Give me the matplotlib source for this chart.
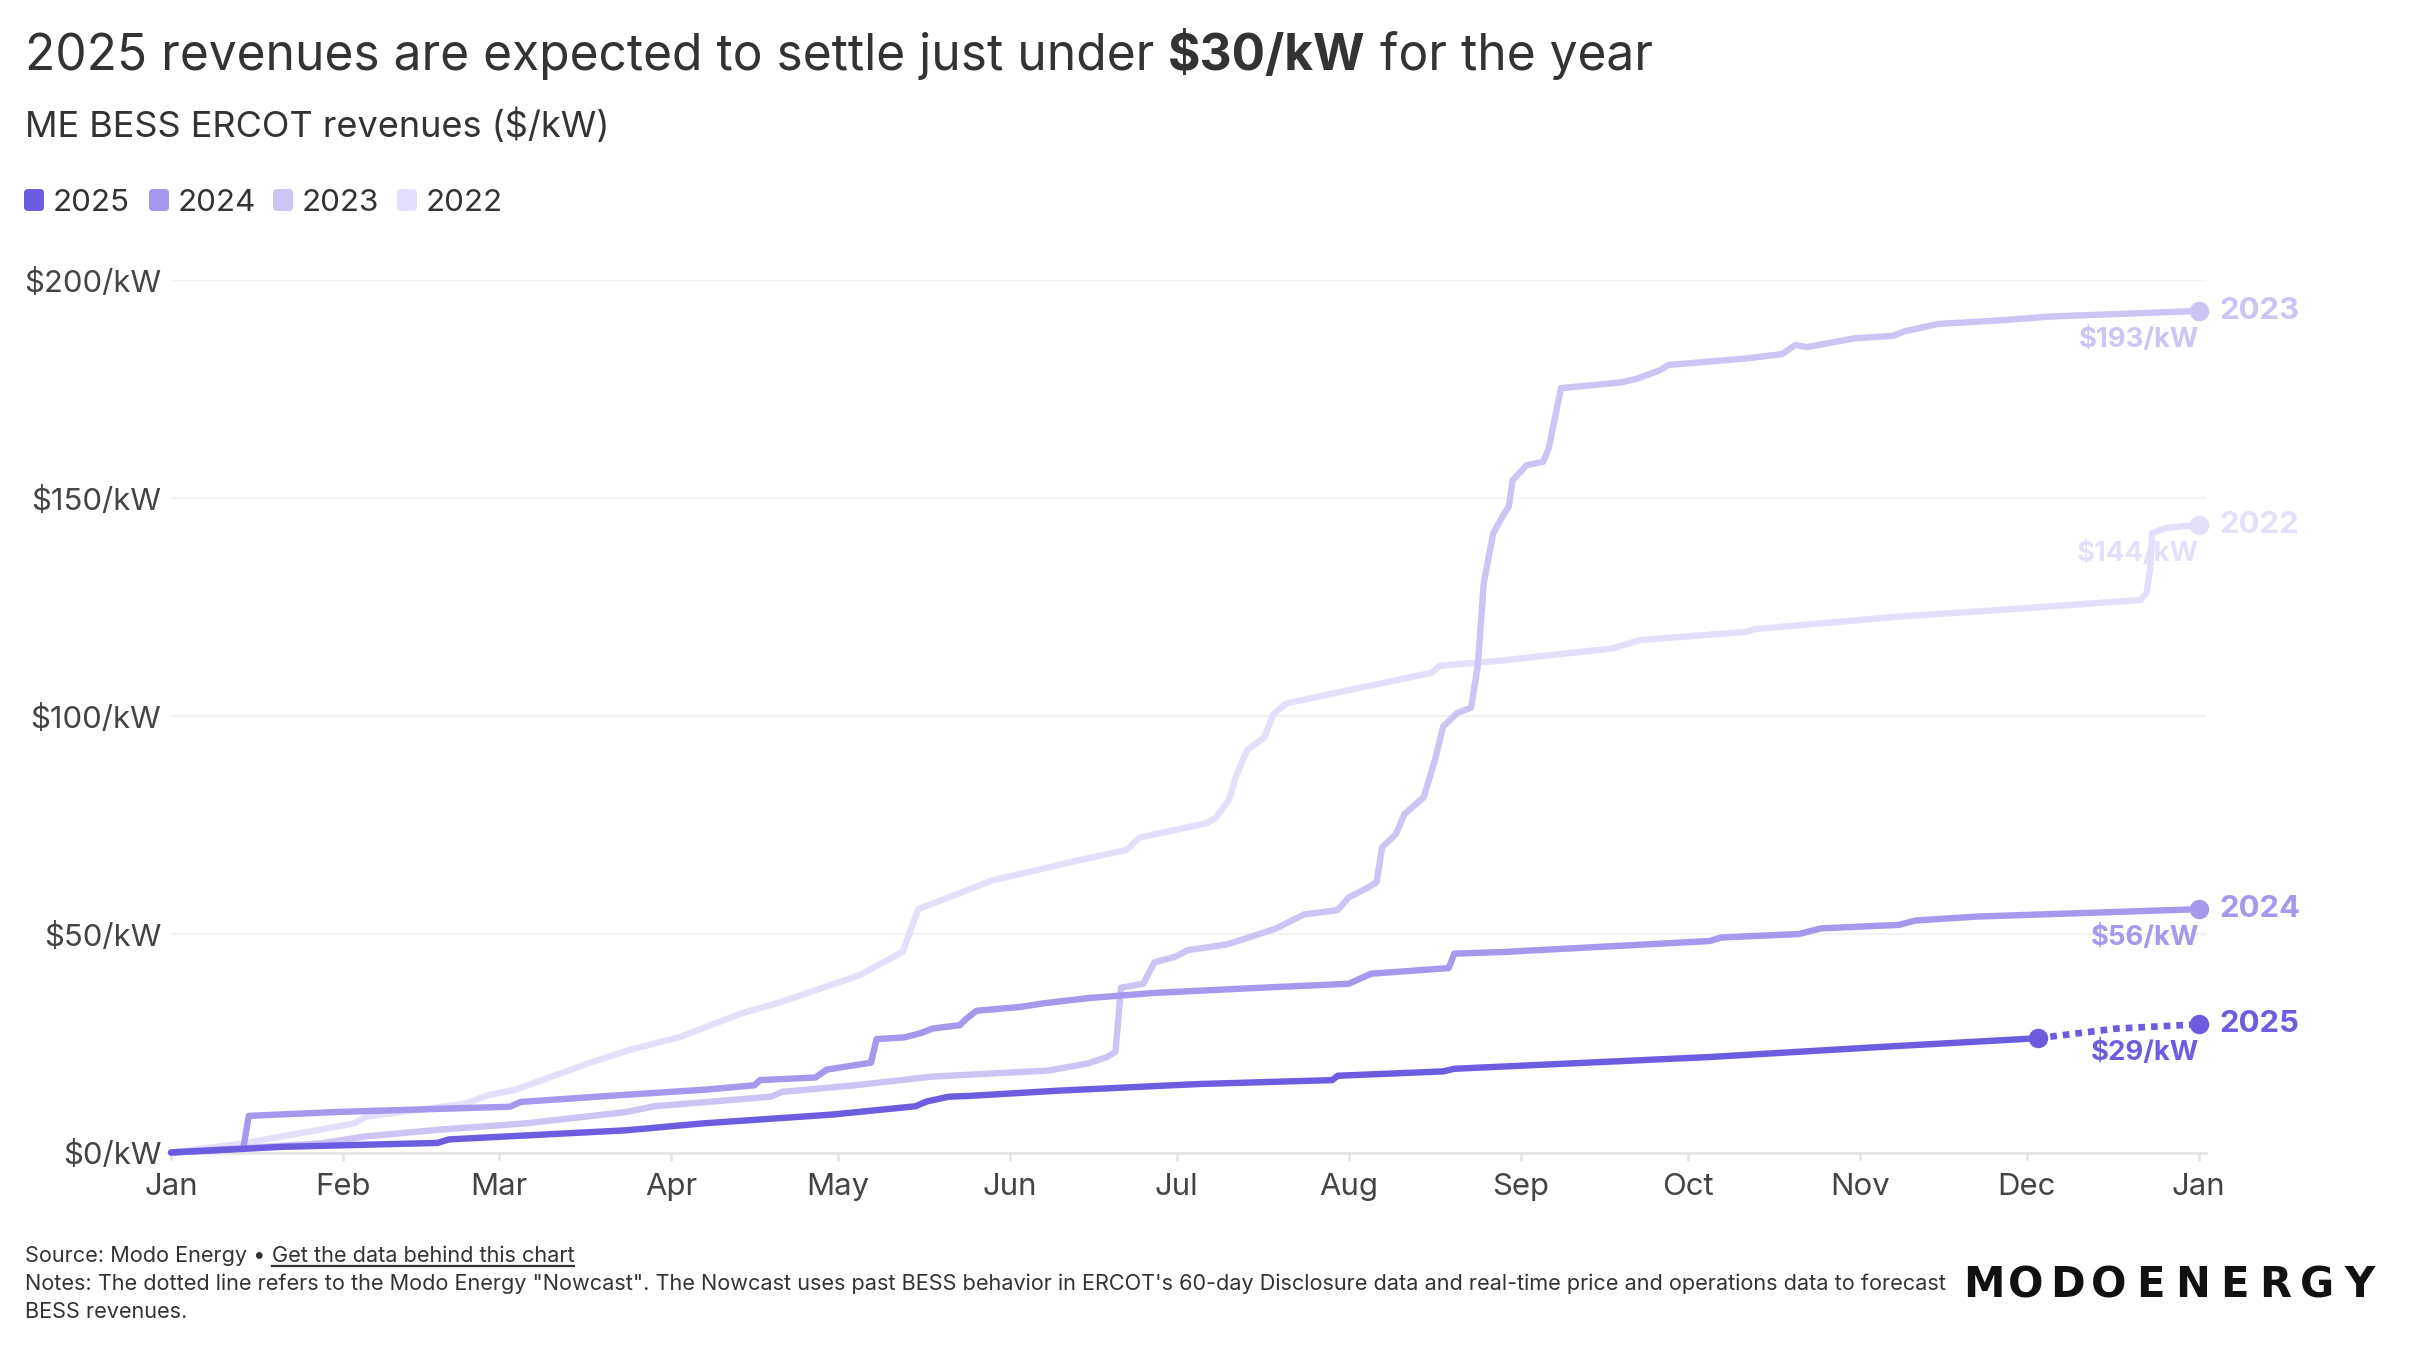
import matplotlib
matplotlib.use("Agg")
import matplotlib.pyplot as plt
from matplotlib.lines import Line2D
from matplotlib.patches import FancyBboxPatch

# ---------------- data ----------------
month_labels = ["Jan", "Feb", "Mar", "Apr", "May", "Jun", "Jul", "Aug", "Sep", "Oct", "Nov", "Dec", "Jan"]
month_days = [0, 31, 59, 90, 120, 151, 181, 212, 243, 273, 304, 334, 365]
y_ticks = [0, 50, 100, 150, 200]
y_tick_labels = ["$0/kW", "$50/kW", "$100/kW", "$150/kW", "$200/kW"]

series_names = ["2025", "2024", "2023", "2022"]
end_value_labels = ["$29/kW", "$56/kW", "$193/kW", "$144/kW"]

days_2025 = [0, 14, 20, 48, 50, 82, 96, 119, 134, 136, 140, 144, 160, 185, 209, 210, 229, 231, 277, 309, 336]
rev_2025 = [0, 0.9, 1.3, 2.2, 3.0, 5.1, 6.7, 8.7, 10.6, 11.7, 12.8, 13.0, 14.2, 15.7, 16.6, 17.6, 18.6, 19.2, 21.9, 24.3, 26.2]
days_2025_nowcast = [336, 350, 365]
rev_2025_nowcast = [26.2, 28.4, 29.4]

days_2024 = [0, 13, 14, 30, 61, 63, 79, 96, 105, 106, 116, 118, 126, 127, 132, 135, 137, 142, 143, 145,
             153, 157, 165, 177, 193, 212, 216, 230, 231, 240, 277, 279, 293, 297, 311, 314, 325, 365]
rev_2024 = [0, 0.9, 8.4, 9.3, 10.5, 11.6, 13.0, 14.4, 15.4, 16.6, 17.2, 19.0, 20.6, 26.0, 26.4, 27.4, 28.4, 29.2, 30.5, 32.5,
            33.4, 34.2, 35.4, 36.6, 37.6, 38.7, 41.0, 42.3, 45.6, 46.0, 48.5, 49.3, 50.1, 51.4, 52.2, 53.2, 54.1, 55.8]

days_2023 = [0, 27, 35, 49, 64, 82, 87, 108, 110, 123, 137, 158, 165, 168.5, 170, 171, 175, 177, 181, 183,
             190, 193, 199, 202, 204, 210, 212, 215.5, 217, 218, 220.5, 222, 225.5, 227.5, 229, 231.5, 234, 235.2,
             236.3, 238, 240, 240.8, 241.5, 244, 247, 248, 250.2, 261, 264, 268, 269.5, 283.5, 290, 292.4, 294.4,
             303, 310, 312, 318, 330, 338, 365]
rev_2023 = [0, 2.1, 3.7, 5.3, 6.7, 9.3, 10.6, 12.8, 13.9, 15.4, 17.4, 18.8, 20.4, 21.9, 23.1, 37.8, 38.7, 43.6, 45.0, 46.4,
            47.7, 48.9, 51.4, 53.4, 54.6, 55.6, 58.5, 60.8, 62.0, 70.0, 73.0, 77.6, 81.5, 90.0, 97.7, 100.8, 102.0, 111.4,
            130.6, 142.0, 146.6, 148.1, 154.2, 157.6, 158.4, 161.5, 175.3, 176.6, 177.5, 179.4, 180.6, 182.1, 183.1, 185.2, 184.7,
            186.7, 187.3, 188.3, 190.0, 190.9, 191.7, 193.0]

days_2022 = [0, 13, 31, 33, 35, 53, 57, 62, 75, 82.5, 91.6, 102.7, 110, 124, 131.7, 134.5, 141.4, 147.8, 159, 163,
             172, 174.3, 186.4, 188, 190.4, 191.8, 193.7, 196.8, 198.4, 200.8, 214.5, 226.9, 228.3, 239.3, 259.5, 264.3,
             283.5, 285, 311, 329, 354.4, 355.6, 356.3, 356.6, 359, 365]
rev_2022 = [0, 2.1, 6.2, 6.7, 8.2, 11.2, 13.1, 14.4, 20.4, 23.5, 26.5, 31.9, 34.6, 40.7, 46.0, 55.8, 59.2, 62.4, 65.7, 66.9,
            69.4, 72.2, 75.5, 76.7, 80.8, 86.6, 92.3, 95.2, 100.5, 103.0, 106.7, 110.0, 111.6, 112.8, 115.6, 117.5,
            119.4, 120.0, 122.9, 124.4, 126.7, 128.3, 134.4, 142.0, 143.2, 144.0]

# ---------------- style ----------------
FONT = ["Inter", "DejaVu Sans"]
plt.rcParams["font.family"] = FONT
colors = {"2025": "#6c5ce0", "2024": "#a698ec", "2023": "#cdc4f5", "2022": "#e4dffb"}
TXT = "#333333"
TICK = "#444444"

W, H, DPI = 2416, 1350, 200
fig = plt.figure(figsize=(W / DPI, H / DPI), dpi=DPI)
fig.patch.set_facecolor("white")


def fx(px):
    return px / W


def fy(py):
    return 1 - py / H


ax_l, ax_r, ax_t, ax_b = 171, 2206, 280.4, 1152.5
ax = fig.add_axes([fx(ax_l), fy(ax_b), fx(ax_r) - fx(ax_l), fy(ax_t) - fy(ax_b)])
ax.set_xlim(0, 366.3)
ax.set_ylim(0, 200)

for s in ["top", "right", "left"]:
    ax.spines[s].set_visible(False)
ax.spines["bottom"].set_color("#e3e3e3")
ax.spines["bottom"].set_linewidth(0.9)

ax.set_yticks(y_ticks)
ax.set_yticklabels(y_tick_labels)
ax.set_xticks(month_days)
ax.set_xticklabels(month_labels)
ax.tick_params(axis="y", length=0, pad=3.5, labelsize=11.2, labelcolor=TICK)
ax.tick_params(axis="x", length=3, width=0.9, color="#e3e3e3", pad=4.5, labelsize=11.2, labelcolor=TICK)
ax.grid(axis="y", color="#f2f2f2", lw=0.8)
ax.set_axisbelow(True)

data = {
    "2025": (days_2025, rev_2025),
    "2024": (days_2024, rev_2024),
    "2023": (days_2023, rev_2023),
    "2022": (days_2022, rev_2022),
}

LW = 2.3
z = {"2022": 2, "2023": 3, "2024": 4, "2025": 5}
for name in ["2022", "2023", "2024", "2025"]:
    d, v = data[name]
    c = colors[name]
    ax.plot(d, v, color=c, lw=LW, solid_capstyle="round", solid_joinstyle="round", clip_on=False, zorder=z[name])
    ax.plot([d[-1]], [v[-1]], "o", ms=6, color=c, clip_on=False, zorder=z[name] + 0.5)

# nowcast
c25 = colors["2025"]
ax.plot(days_2025_nowcast, rev_2025_nowcast, color=c25, lw=2.4, ls=(0, (1, 0.9)), dash_capstyle="butt",
        clip_on=False, zorder=6)
ax.plot([days_2025_nowcast[-1]], [rev_2025_nowcast[-1]], "o", ms=6, color=c25, clip_on=False, zorder=6.5)

end_points = {
    "2025": (days_2025_nowcast[-1], rev_2025_nowcast[-1]),
    "2024": (days_2024[-1], rev_2024[-1]),
    "2023": (days_2023[-1], rev_2023[-1]),
    "2022": (days_2022[-1], rev_2022[-1]),
}
for name, lab in zip(series_names, end_value_labels):
    xe, ye = end_points[name]
    c = colors[name]
    ax.annotate(name, xy=(xe, ye), xytext=(7.5, 0), textcoords="offset points", ha="left", va="center",
                fontsize=11.2, fontweight="bold", color=c, annotation_clip=False)
    ax.annotate(lab, xy=(xe, ye), xytext=(0, -10.5), textcoords="offset points", ha="right", va="center",
                fontsize=9.9, fontweight="bold", color=c, annotation_clip=False)

# ---------------- titles ----------------
renderer = fig.canvas.get_renderer()


def text_width(s, size, weight="normal"):
    t = fig.text(0, 0, s, fontsize=size, fontweight=weight)
    w = t.get_window_extent(renderer).width
    t.remove()
    return w


def rich(pieces, x_px, y_px, size):
    """pieces: list of (text, weight, color, underline). y_px is baseline in pixels from top."""
    sp = text_width("x x", size) - text_width("xx", size)
    x = x_px
    out = []
    for s, weight, color, underline in pieces:
        lead = len(s) - len(s.lstrip(" "))
        x += lead * sp
        core = s.strip(" ")
        t = fig.text(fx(x), fy(y_px), core, fontsize=size, fontweight=weight, color=color,
                     ha="left", va="baseline")
        bb = t.get_window_extent(renderer)
        if underline:
            fig.add_artist(Line2D([fx(x), fx(x + bb.width)], [fy(y_px + 4), fy(y_px + 4)],
                                  transform=fig.transFigure, color=color, lw=0.8))
        x += bb.width
        trail = len(s) - len(s.rstrip(" "))
        x += trail * sp
        out.append(t)
    return out


rich([("2025 revenues are expected to settle just under ", "normal", TXT, False),
      ("$30/kW", "bold", TXT, False),
      (" for the year", "normal", TXT, False)], 25, 70, 17.9)

fig.text(fx(25), fy(137), "ME BESS ERCOT revenues ($/kW)", fontsize=13, color=TXT, ha="left", va="baseline")

# legend
leg_x = [24, 149, 273, 397]
for name, lx in zip(series_names, leg_x):
    box = FancyBboxPatch(((lx) / DPI, (H - 211) / DPI), 20 / DPI, 22 / DPI,
                         boxstyle="round,pad=0,rounding_size=0.02", transform=fig.dpi_scale_trans,
                         facecolor=colors[name], edgecolor="none")
    fig.add_artist(box)
    fig.text(fx(lx + 29), fy(211), name, fontsize=11.3, color=TXT, ha="left", va="baseline")

# footer
rich([("Source: Modo Energy \u2022 ", "normal", TXT, False),
      ("Get the data behind this chart", "normal", TXT, True)], 25, 1262, 7.8)
fig.text(fx(25), fy(1290), "Notes: The dotted line refers to the Modo Energy \"Nowcast\". The Nowcast uses past BESS behavior "
         "in ERCOT's 60-day Disclosure data and real-time price and operations data to forecast",
         fontsize=7.8, color=TXT, ha="left", va="baseline")
fig.text(fx(25), fy(1318), "BESS revenues.", fontsize=7.8, color=TXT, ha="left", va="baseline")

# logo
logo = "MODOENERGY"
lx0, lx1 = 1984, 2359
for i, ch in enumerate(logo):
    xc = lx0 + (lx1 - lx0) * i / (len(logo) - 1)
    fig.text(fx(xc), fy(1297), ch, fontsize=15, fontweight="bold", color="#111111",
             ha="center", va="baseline", family=["DejaVu Sans"])

fig.savefig("out.png", dpi=DPI, facecolor="white")
